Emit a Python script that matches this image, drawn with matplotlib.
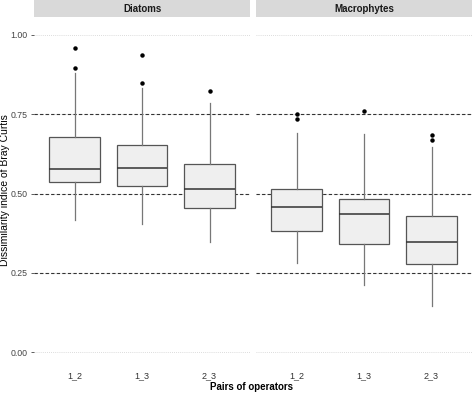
import matplotlib
matplotlib.use("Agg")
import matplotlib.pyplot as plt

plt.rcParams['font.family'] = ['Liberation Sans', 'DejaVu Sans']

panels = ["Diatoms", "Macrophytes"]
pairs = ["1_2", "1_3", "2_3"]

# summary statistics: (whislo, q1, med, q3, whishi)
diatoms_stats = [
    (0.418, 0.535, 0.576, 0.677, 0.880),
    (0.403, 0.523, 0.579, 0.652, 0.831),
    (0.347, 0.454, 0.513, 0.592, 0.784),
]
diatoms_outliers = [[0.960, 0.894], [0.935, 0.847], [0.822]]

macro_stats = [
    (0.280, 0.382, 0.456, 0.513, 0.690),
    (0.211, 0.342, 0.434, 0.484, 0.686),
    (0.145, 0.277, 0.347, 0.430, 0.646),
]
macro_outliers = [[0.752, 0.735], [0.760], [0.684, 0.668]]

y_ticks = [0.0, 0.25, 0.5, 0.75, 1.0]
y_ticklabels = ["0.00", "0.25", "0.50", "0.75", "1.00"]
ref_lines = [0.25, 0.5, 0.75]

W, H = 474, 394
fig = plt.figure(figsize=(W / 100, H / 100), dpi=100)

panel_top, panel_bottom = 19, 368
panel_lefts = [34, 256]
panel_w = 216
strip_top, strip_bottom = 0, 17

all_stats = [diatoms_stats, macro_stats]
all_out = [diatoms_outliers, macro_outliers]

for i, name in enumerate(panels):
    left = panel_lefts[i]
    ax = fig.add_axes([left / W, 1 - panel_bottom / H, panel_w / W,
                       (panel_bottom - panel_top) / H])
    ax.set_facecolor("white")
    for s in ax.spines.values():
        s.set_visible(False)
    # faint major grid
    for yv in y_ticks:
        ax.axhline(yv, color="#d0d0d0", lw=0.6, ls=(0, (1, 1.5)), zorder=0)
    for yv in ref_lines:
        ax.axhline(yv, color="#333333", lw=0.8, ls=(0, (3, 2)), zorder=1)

    bxp_stats = []
    for j, st in enumerate(all_stats[i]):
        lo, q1, med, q3, hi = st
        bxp_stats.append(dict(whislo=lo, q1=q1, med=med, q3=q3, whishi=hi,
                              fliers=all_out[i][j], label=pairs[j]))
    ax.bxp(bxp_stats, positions=[1, 2, 3], widths=0.75, patch_artist=True,
           showcaps=False,
           boxprops=dict(facecolor="#efefef", edgecolor="#555555", lw=0.9),
           medianprops=dict(color="#333333", lw=1.1),
           whiskerprops=dict(color="#777777", lw=0.9),
           flierprops=dict(marker="o", markerfacecolor="black",
                           markeredgecolor="black", markersize=2.2),
           zorder=3)
    ax.set_xlim(0.4, 3.6)
    ax.set_ylim(-0.05, 1.05)
    ax.set_xticks([1, 2, 3])
    ax.set_xticklabels(pairs, fontsize=6.5, color="#333333")
    ax.tick_params(axis="x", length=0, pad=2)
    if i == 0:
        ax.set_yticks(y_ticks)
        ax.set_yticklabels(y_ticklabels, fontsize=6.3, color="#444444")
        ax.tick_params(axis="y", length=2.5, width=0.6, color="#444444", pad=2)
    else:
        ax.set_yticks([])

    sax = fig.add_axes([left / W, 1 - strip_bottom / H, panel_w / W,
                        (strip_bottom - strip_top) / H])
    sax.set_facecolor("#d9d9d9")
    for s in sax.spines.values():
        s.set_visible(False)
    sax.set_xticks([])
    sax.set_yticks([])
    sax.text(0.5, 0.45, name, ha="center", va="center", fontsize=7,
             fontweight="bold", color="#1a1a1a", transform=sax.transAxes)

fig.text(5.5 / W, 1 - 190 / H, "Dissimilarity indice of Bray Curtis",
         rotation=90, ha="center", va="center", fontsize=7.5)
fig.text(252 / W, 1 - 387 / H, "Pairs of operators", ha="center",
         va="center", fontsize=7, fontweight="bold")

fig.savefig("out.png", dpi=100, facecolor="white")
